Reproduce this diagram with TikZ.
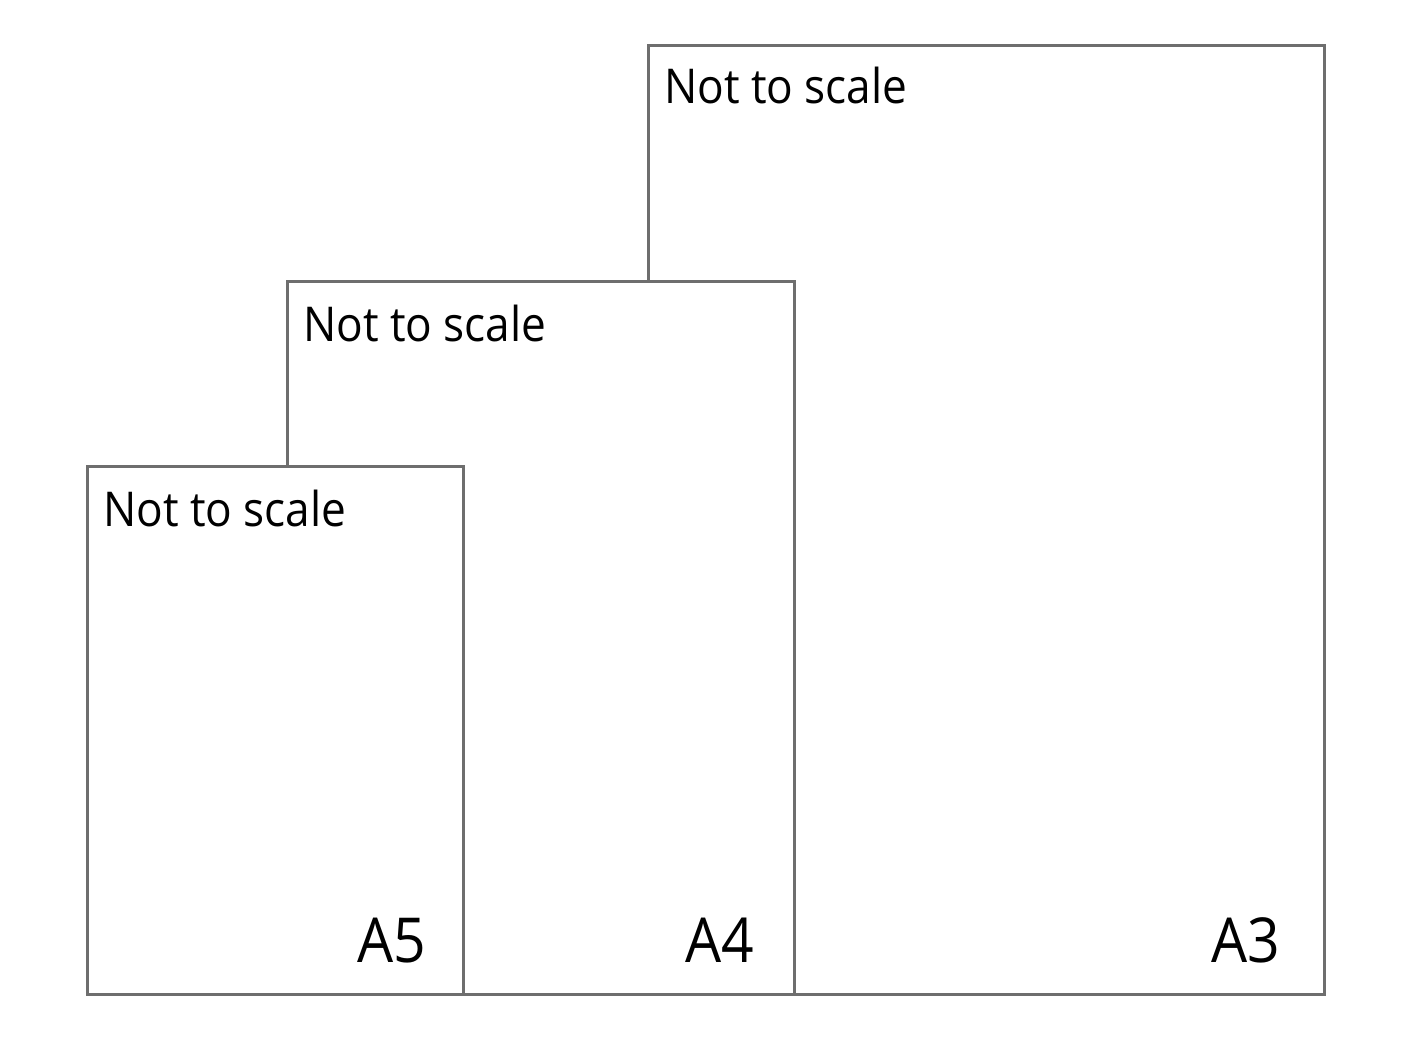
\documentclass[tikz,border=0pt]{standalone}
\usepackage{fontspec}
\setmainfont{Open Sans}[FakeStretch=0.92]
\usetikzlibrary{positioning,calc}

\tikzset{
    page/.style={draw=black!57, line width=1.5pt, fill=white,
        inner sep=0pt, outer sep=0pt, anchor=south west},
    note/.style={anchor=base west, font=\fontsize{24}{28}\selectfont},
    size/.style={anchor=base east, font=\fontsize{31}{36}\selectfont}
}

\begin{document}
\begin{tikzpicture}[x=0.5pt, y=-0.5pt]
    \useasboundingbox (0,0) rectangle (1404,1050);
    % pages, largest first
    \node[page, minimum width=338pt, minimum height=474.5pt] (a3) at (648,994) {};
    \node[page, minimum width=253.5pt, minimum height=356.5pt] (a4) at (287,994) {};
    \node[page, minimum width=188pt, minimum height=264pt] (a5) at (87,994) {};
    % labels
    \node[note] (n3) at ([xshift=4.5pt,yshift=-29pt]a3.north west) {Not to scale};
    \node[note] (n4) at ([xshift=4.5pt,yshift=-30pt]a4.north west) {Not to scale};
    \node[note] (n5) at ([xshift=4.5pt,yshift=-30pt]a5.north west) {Not to scale};
    \node[size] (s3) at ([xshift=-18.5pt,yshift=16pt]a3.south east) {A3};
    \node[size] (s4) at ([xshift=-16.5pt,yshift=16pt]a4.south east) {A4};
    \node[size] (s5) at ([xshift=-15pt,yshift=16pt]a5.south east) {A5};
\end{tikzpicture}
\end{document}
